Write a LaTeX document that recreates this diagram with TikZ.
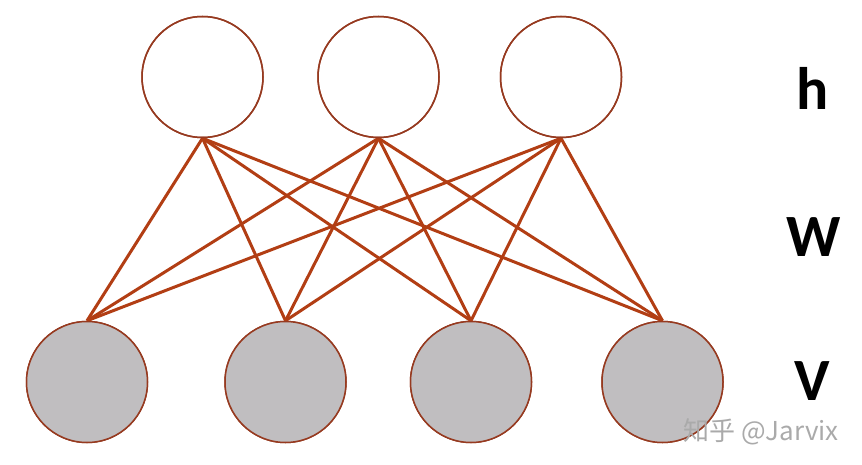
\documentclass[tikz,border=0pt]{standalone}
\usepackage{fontspec}
\setmainfont{Carlito}
\newfontfamily\cjkfont{Noto Sans CJK SC}
\definecolor{edgebrown}{RGB}{178,62,20}
\definecolor{ringbrown}{RGB}{150,58,32}
\definecolor{unitgray}{RGB}{192,190,192}
\definecolor{markgray}{RGB}{170,170,170}
\begin{document}
\begin{tikzpicture}[x=1pt,y=-1pt,
	hidden/.style={circle,draw=ringbrown,line width=1.5pt,minimum size=121pt,inner sep=0pt,fill=white},
	visible/.style={hidden,fill=unitgray},
	weight/.style={draw=edgebrown,line width=3pt},
	layer/.style={inner sep=0pt,font=\fontsize{60}{60}\selectfont\bfseries}]
	
		\useasboundingbox (0,0) rectangle (862,465);
		
		% hidden units
		\node[hidden] (h1) at (202.5,77) {};
		\node[hidden] (h2) at (378.5,77) {};
		\node[hidden] (h3) at (561,77) {};
		
		% visible units
		\node[visible] (v1) at (87,382) {};
		\node[visible] (v2) at (285.5,382) {};
		\node[visible] (v3) at (471,382) {};
		\node[visible] (v4) at (662.5,382) {};
		
		% weights
		\draw[weight] (h1.south) -- (v1.north);
		\draw[weight] (h1.south) -- (v2.north);
		\draw[weight] (h1.south) -- (v3.north);
		\draw[weight] (h1.south) -- (v4.north);
		\draw[weight] (h2.south) -- (v1.north);
		\draw[weight] (h2.south) -- (v2.north);
		\draw[weight] (h2.south) -- (v3.north);
		\draw[weight] (h2.south) -- (v4.north);
		\draw[weight] (h3.south) -- (v1.north);
		\draw[weight] (h3.south) -- (v2.north);
		\draw[weight] (h3.south) -- (v3.north);
		\draw[weight] (h3.south) -- (v4.north);
		
		% redraw unit borders over the weights
		\node[hidden,fill=none] at (h1) {};
		\node[hidden,fill=none] at (h2) {};
		\node[hidden,fill=none] at (h3) {};
		\node[visible] at (v1) {};
		\node[visible] at (v2) {};
		\node[visible] at (v3) {};
		\node[visible] at (v4) {};
		
		% labels
		\node[layer] (lh) at (812.5,88.5) {h};
		\node[layer] (lw) at (814,237.5) {W};
		\node[layer] (lv) at (812.5,381) {V};
		
		% watermark
		\node[text=markgray,inner sep=0pt,anchor=base east,font=\fontsize{26}{26}\cjkfont] (mark) at (839,440) {知乎 @Jarvix};
	
	\end{tikzpicture}
\end{document}
